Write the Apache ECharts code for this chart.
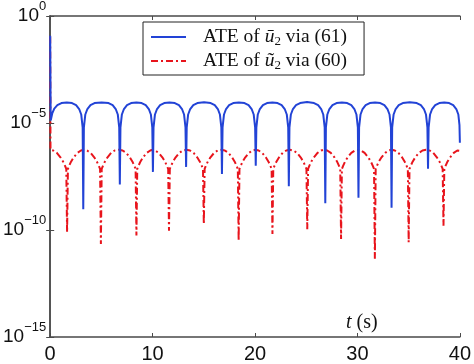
<!DOCTYPE html>
<html>
<head>
<meta charset="utf-8">
<script src="https://cdn.jsdelivr.net/npm/echarts/dist/echarts.min.js"></script>
<style>
html,body{margin:0;padding:0;background:#fff;}
#chart{width:474px;height:364px;}
</style>
</head>
<body>
<div id="chart"></div>
<script>
// x ticks
var xTicks = [0, 10, 20, 30, 40];
// y decade ticks (powers of ten)
var yTickExponents = [0, -5, -10, -15];

var seriesNames = ['ATE of ū2 via (61)', 'ATE of ũ2 via (60)'];

// Blue: ATE via (61) — [t (s), error]
var blueData = [
  [0, 1.2e-1], [0.05, 1.3e-5], [0.2, 2.8e-5], [0.4, 4.7e-5], [0.7, 6.8e-5], [1.1, 8.5e-5], [1.62, 9.1e-5], [2.13, 8.5e-5], [2.53, 6.8e-5], [2.83, 4.5e-5], [3.03, 2.5e-5], [3.17, 6.3e-6], [3.23, 9.3e-10],
  [3.29, 6.3e-6], [3.43, 2.5e-5], [3.63, 4.5e-5], [3.93, 6.8e-5], [4.33, 8.5e-5], [5.02, 9.1e-5], [5.70, 8.5e-5], [6.10, 6.8e-5], [6.40, 4.5e-5], [6.60, 2.5e-5], [6.74, 6.3e-6], [6.80, 1.35e-8],
  [6.86, 6.3e-6], [7.00, 2.5e-5], [7.20, 4.5e-5], [7.50, 6.8e-5], [7.90, 8.5e-5], [8.42, 9.1e-5], [8.93, 8.5e-5], [9.33, 6.8e-5], [9.63, 4.5e-5], [9.83, 2.5e-5], [9.97, 6.3e-6], [10.03, 5.2e-8],
  [10.09, 6.3e-6], [10.23, 2.5e-5], [10.43, 4.5e-5], [10.73, 6.8e-5], [11.13, 8.5e-5], [11.65, 9.1e-5], [12.17, 8.5e-5], [12.57, 6.8e-5], [12.87, 4.5e-5], [13.07, 2.5e-5], [13.21, 6.3e-6], [13.27, 8.9e-8],
  [13.33, 6.3e-6], [13.47, 2.5e-5], [13.67, 4.5e-5], [13.97, 6.8e-5], [14.37, 8.5e-5], [15.02, 9.3e-5], [15.67, 8.5e-5], [16.07, 6.8e-5], [16.37, 4.5e-5], [16.57, 2.5e-5], [16.71, 6.3e-6], [16.77, 4.2e-8],
  [16.83, 6.3e-6], [16.97, 2.5e-5], [17.17, 4.5e-5], [17.47, 6.8e-5], [17.87, 8.5e-5], [18.42, 9.1e-5], [18.97, 8.5e-5], [19.37, 6.8e-5], [19.67, 4.5e-5], [19.87, 2.5e-5], [20.01, 6.3e-6], [20.07, 1.0e-7],
  [20.13, 6.3e-6], [20.27, 2.5e-5], [20.47, 4.5e-5], [20.77, 6.8e-5], [21.17, 8.5e-5], [21.69, 9.1e-5], [22.20, 8.5e-5], [22.60, 6.8e-5], [22.90, 4.5e-5], [23.10, 2.5e-5], [23.24, 6.3e-6], [23.30, 1.1e-8],
  [23.36, 6.3e-6], [23.50, 2.5e-5], [23.70, 4.5e-5], [24.00, 6.8e-5], [24.40, 8.5e-5], [25.08, 9.5e-5], [25.76, 8.5e-5], [26.16, 6.8e-5], [26.46, 4.5e-5], [26.66, 2.5e-5], [26.80, 6.3e-6], [26.86, 1.8e-9],
  [26.92, 6.3e-6], [27.06, 2.5e-5], [27.26, 4.5e-5], [27.56, 6.8e-5], [27.96, 8.5e-5], [28.48, 9.1e-5], [29.00, 8.5e-5], [29.40, 6.8e-5], [29.70, 4.5e-5], [29.90, 2.5e-5], [30.04, 6.3e-6], [30.10, 3.2e-9],
  [30.16, 6.3e-6], [30.30, 2.5e-5], [30.50, 4.5e-5], [30.80, 6.8e-5], [31.20, 8.5e-5], [31.72, 9.1e-5], [32.23, 8.5e-5], [32.63, 6.8e-5], [32.93, 4.5e-5], [33.13, 2.5e-5], [33.27, 6.3e-6], [33.33, 1.1e-9],
  [33.39, 6.3e-6], [33.53, 2.5e-5], [33.73, 4.5e-5], [34.03, 6.8e-5], [34.43, 8.5e-5], [35.11, 9.3e-5], [35.79, 8.5e-5], [36.19, 6.8e-5], [36.49, 4.5e-5], [36.69, 2.5e-5], [36.83, 6.3e-6], [36.89, 7.2e-8],
  [36.95, 6.3e-6], [37.09, 2.5e-5], [37.29, 4.5e-5], [37.59, 6.8e-5], [37.99, 8.5e-5], [38.47, 9.1e-5], [38.95, 8.5e-5], [39.35, 6.8e-5], [39.65, 4.5e-5], [39.85, 2.5e-5], [39.96, 8.0e-6], [40.0, 1.2e-6]
];

// Red: ATE via (60) — [t (s), error]
var redData = [
  [0, 1.1e-1], [0.03, 5.6e-7], [0.3, 5.2e-7], [0.65, 4.0e-7], [1.0, 2.5e-7], [1.25, 1.6e-7], [1.45, 1.0e-7], [1.57, 7.1e-8], [1.65, 7.9e-11],
  [1.73, 7.1e-8], [1.85, 1.0e-7], [2.05, 1.6e-7], [2.3, 2.5e-7], [2.65, 4.0e-7], [3.0, 5.2e-7], [3.3, 5.6e-7], [3.6, 5.2e-7], [3.95, 4.0e-7], [4.3, 2.5e-7], [4.55, 1.6e-7], [4.75, 1.0e-7], [4.87, 7.1e-8], [4.95, 2.2e-11],
  [5.03, 7.1e-8], [5.15, 1.0e-7], [5.35, 1.6e-7], [5.6, 2.5e-7], [5.95, 4.0e-7], [6.3, 5.2e-7], [6.69, 5.6e-7], [7.07, 5.2e-7], [7.42, 4.0e-7], [7.77, 2.5e-7], [8.02, 1.6e-7], [8.22, 1.0e-7], [8.34, 7.1e-8], [8.42, 5.5e-11],
  [8.5, 7.1e-8], [8.62, 1.0e-7], [8.82, 1.6e-7], [9.07, 2.5e-7], [9.42, 4.0e-7], [9.77, 5.2e-7], [10.01, 5.6e-7], [10.25, 5.2e-7], [10.6, 4.0e-7], [10.95, 2.5e-7], [11.2, 1.6e-7], [11.4, 1.0e-7], [11.52, 7.1e-8], [11.6, 9.3e-11],
  [11.68, 7.1e-8], [11.8, 1.0e-7], [12.0, 1.6e-7], [12.25, 2.5e-7], [12.6, 4.0e-7], [12.95, 5.2e-7], [13.3, 5.6e-7], [13.65, 5.2e-7], [14.0, 4.0e-7], [14.35, 2.5e-7], [14.6, 1.6e-7], [14.8, 1.0e-7], [14.92, 7.1e-8], [15.0, 1.9e-10],
  [15.08, 7.1e-8], [15.2, 1.0e-7], [15.4, 1.6e-7], [15.65, 2.5e-7], [16.0, 4.0e-7], [16.35, 5.2e-7], [16.7, 5.6e-7], [17.05, 5.2e-7], [17.4, 4.0e-7], [17.75, 2.5e-7], [18.0, 1.6e-7], [18.2, 1.0e-7], [18.32, 7.1e-8], [18.4, 3.2e-11],
  [18.48, 7.1e-8], [18.6, 1.0e-7], [18.8, 1.6e-7], [19.05, 2.5e-7], [19.4, 4.0e-7], [19.75, 5.2e-7], [20.05, 5.6e-7], [20.35, 5.2e-7], [20.7, 4.0e-7], [21.05, 2.5e-7], [21.3, 1.6e-7], [21.5, 1.0e-7], [21.62, 7.1e-8], [21.7, 6.5e-11],
  [21.78, 7.1e-8], [21.9, 1.0e-7], [22.1, 1.6e-7], [22.35, 2.5e-7], [22.7, 4.0e-7], [23.05, 5.2e-7], [23.4, 5.6e-7], [23.75, 5.2e-7], [24.1, 4.0e-7], [24.45, 2.5e-7], [24.7, 1.6e-7], [24.9, 1.0e-7], [25.02, 7.1e-8], [25.1, 1.1e-10],
  [25.18, 7.1e-8], [25.3, 1.0e-7], [25.5, 1.6e-7], [25.75, 2.5e-7], [26.1, 4.0e-7], [26.45, 5.2e-7], [26.75, 5.6e-7], [27.05, 5.2e-7], [27.4, 4.0e-7], [27.75, 2.5e-7], [28.0, 1.6e-7], [28.2, 1.0e-7], [28.32, 7.1e-8], [28.4, 3.8e-11],
  [28.48, 7.1e-8], [28.6, 1.0e-7], [28.8, 1.6e-7], [29.05, 2.5e-7], [29.4, 4.0e-7], [29.75, 5.2e-7], [30.05, 5.6e-7], [30.35, 5.2e-7], [30.7, 4.0e-7], [31.05, 2.5e-7], [31.3, 1.6e-7], [31.5, 1.0e-7], [31.62, 7.1e-8], [31.7, 4.6e-12],
  [31.78, 7.1e-8], [31.9, 1.0e-7], [32.1, 1.6e-7], [32.35, 2.5e-7], [32.7, 4.0e-7], [33.05, 5.2e-7], [33.35, 5.6e-7], [33.65, 5.2e-7], [34.0, 4.0e-7], [34.35, 2.5e-7], [34.6, 1.6e-7], [34.8, 1.0e-7], [34.92, 7.1e-8], [35.0, 2.7e-11],
  [35.08, 7.1e-8], [35.2, 1.0e-7], [35.4, 1.6e-7], [35.65, 2.5e-7], [36.0, 4.0e-7], [36.35, 5.2e-7], [36.7, 5.6e-7], [37.05, 5.2e-7], [37.4, 4.0e-7], [37.75, 2.5e-7], [38.0, 1.6e-7], [38.2, 1.0e-7], [38.32, 7.1e-8], [38.4, 1.6e-10],
  [38.48, 7.1e-8], [38.6, 1.0e-7], [38.8, 1.6e-7], [39.05, 2.5e-7], [39.4, 4.0e-7], [39.75, 5.2e-7], [40.0, 5.0e-7]
];

var chart = echarts.init(document.getElementById('chart'), null, {renderer: 'canvas'});

var frameColor = '#4a4a4a';
var sansFont = '"Liberation Sans", Arial, Helvetica, sans-serif';
var serifFont = '"Liberation Serif", "Times New Roman", serif';

function yLabel(v) {
  var e = Math.round(Math.log(v) / Math.LN10);
  var s = e < 0 ? '\u2212' + (-e) : String(e);
  return '{b|10}{e|' + s + '}';
}

var legendRich = {
  sp: {width: 12, fontSize: 19.5, fontFamily: serifFont},
  i: {fontStyle: 'italic', fontFamily: serifFont, fontSize: 19.5, color: '#111', lineHeight: 22},
  sub: {fontFamily: serifFont, fontSize: 13, color: '#111', lineHeight: 10, verticalAlign: 'bottom'}
};

var option = {
  animation: false,
  backgroundColor: '#fff',
  grid: {left: 49, right: 13, top: 15, bottom: 25, containLabel: false},
  legend: {
    orient: 'vertical',
    left: 143,
    top: 22,
    itemWidth: 35,
    itemHeight: 14,
    itemGap: 2,
    padding: [4, 17, 3, 7],
    borderColor: '#222',
    borderWidth: 1,
    backgroundColor: '#fff',
    itemStyle: {opacity: 0},
    data: seriesNames,
    formatter: function (name) {
      if (name === seriesNames[0]) return '{sp| }ATE of {i|\u016B}{sub|2} via (61)';
      return '{sp| }ATE of {i|\u0169}{sub|2} via (60)';
    },
    textStyle: {fontFamily: serifFont, fontSize: 19.5, color: '#111', lineHeight: 22, rich: legendRich}
  },
  xAxis: [{
    type: 'value',
    min: xTicks[0],
    max: xTicks[xTicks.length - 1],
    interval: 10,
    position: 'bottom',
    axisLine: {show: true, lineStyle: {color: frameColor, width: 1.5}},
    axisTick: {show: true, inside: true, length: 4, lineStyle: {color: frameColor}},
    splitLine: {show: false},
    axisLabel: {fontFamily: sansFont, fontSize: 20, color: '#111', margin: 7, showMaxLabel: true, showMinLabel: true}
  }, {
    type: 'value',
    min: xTicks[0],
    max: xTicks[xTicks.length - 1],
    interval: 10,
    position: 'top',
    axisLine: {show: true, lineStyle: {color: frameColor, width: 1.5}},
    axisTick: {show: true, inside: true, length: 4, lineStyle: {color: frameColor}},
    splitLine: {show: false},
    axisLabel: {show: false}
  }],
  yAxis: [{
    type: 'log',
    logBase: 10,
    min: Math.pow(10, yTickExponents[yTickExponents.length - 1]),
    max: Math.pow(10, yTickExponents[0]),
    interval: 5,
    splitNumber: 3,
    position: 'left',
    axisLine: {show: true, lineStyle: {color: frameColor, width: 1.5}},
    axisTick: {show: true, inside: true, length: 4, lineStyle: {color: frameColor}},
    splitLine: {show: false},
    minorTick: {show: false},
    axisLabel: {
      margin: 4,
      formatter: yLabel,
      rich: {
        b: {fontFamily: sansFont, fontSize: 19, color: '#111', lineHeight: 32},
        e: {fontFamily: sansFont, fontSize: 13, color: '#111', lineHeight: 13, verticalAlign: 'top'}
      }
    }
  }, {
    type: 'log',
    logBase: 10,
    min: Math.pow(10, yTickExponents[yTickExponents.length - 1]),
    max: Math.pow(10, yTickExponents[0]),
    interval: 5,
    splitNumber: 3,
    position: 'right',
    axisLine: {show: true, lineStyle: {color: frameColor, width: 1.5}},
    axisTick: {show: true, inside: true, length: 4, lineStyle: {color: frameColor}},
    splitLine: {show: false},
    axisLabel: {show: false}
  }],
  graphic: [{
    type: 'text',
    left: 346,
    top: 313,
    style: {
      text: '{i|t} (s)',
      fontFamily: serifFont,
      fontSize: 20,
      fill: '#111',
      rich: {i: {fontStyle: 'italic', fontFamily: serifFont, fontSize: 20, fill: '#111'}}
    }
  }],
  series: [{
    name: seriesNames[0],
    type: 'line',
    data: blueData,
    xAxisIndex: 0,
    yAxisIndex: 0,
    symbol: 'none',
    clip: true,
    lineStyle: {color: '#2243d6', width: 2},
    itemStyle: {color: '#2243d6'},
    z: 3
  }, {
    name: seriesNames[1],
    type: 'line',
    data: redData,
    xAxisIndex: 0,
    yAxisIndex: 0,
    symbol: 'none',
    clip: true,
    lineStyle: {color: '#e8141c', width: 2, type: [7, 3, 2, 3]},
    itemStyle: {color: '#e8141c'},
    z: 2
  }]
};

chart.setOption(option);
</script>
</body>
</html>
